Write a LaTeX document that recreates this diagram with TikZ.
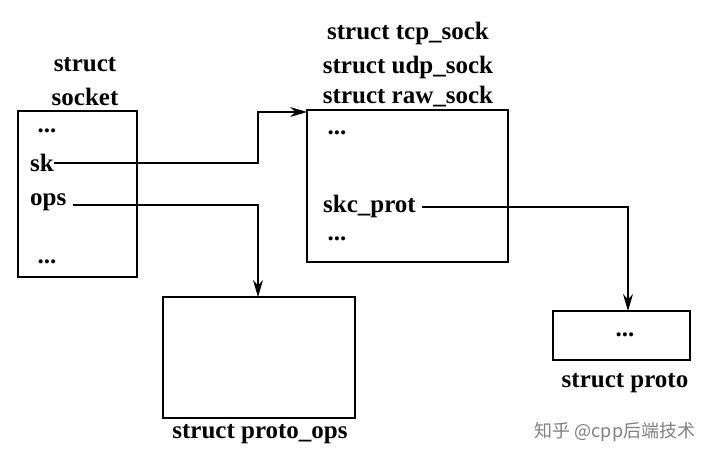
\documentclass[tikz,border=0pt]{standalone}
\usepackage{fontspec}
\setmainfont{Liberation Serif}
\newfontfamily\cjk{Noto Sans CJK SC}
\usetikzlibrary{arrows.meta}
\begin{document}
\begin{tikzpicture}[x=1pt,y=-1pt,
  box/.style={draw,line width=1.6pt},
  lab/.style={font=\bfseries\fontsize{25}{30}\selectfont,inner sep=0pt},
  con/.style={line width=1.2pt,-{Stealth[length=17pt,width=10pt]}}]
\useasboundingbox (0,0) rectangle (720,461);
\draw[box] (18,111) rectangle (137,277);
\draw[box] (307,110) rectangle (508,262);
\draw[box] (163,297) rectangle (355,418);
\draw[box] (553,311) rectangle (690,360);
\node[lab] (s1) at (85,65) {struct};
\node[lab] (s2) at (85,97) {socket};
\node[lab] (d1) at (47,131) {...};
\node[lab,anchor=west] (sk) at (30,163) {sk};
\node[lab,anchor=west] (ops) at (30,202) {ops};
\node[lab] (d2) at (47,262) {...};
\node[lab] (t1) at (408,33) {struct tcp\_sock};
\node[lab] (t2) at (408,67) {struct udp\_sock};
\node[lab] (t3) at (408,97) {struct raw\_sock};
\node[lab] (d3) at (337,133) {...};
\node[lab,anchor=west] (kp) at (323,206) {skc\_prot};
\node[lab] (d4) at (337,239) {...};
\node[lab] (po) at (260,434) {struct proto\_ops};
\node[lab] (d5) at (625,335) {...};
\node[lab] (pr) at (625,383) {struct proto};
\node[font=\cjk\fontsize{18}{20}\selectfont,text=gray,inner sep=0pt] (wm) at (615,432) {知乎 @cpp后端技术};
\coordinate (a1) at (258,163); \coordinate (a2) at (258,112); \coordinate (a3) at (307,112);
\draw[con] (sk.east |- a1) -- (a1) -- (a2) -- (a3);
\coordinate (b1) at (258,205); \coordinate (b2) at (258,297);
\draw[con] ([xshift=6pt]ops.east |- b1) -- (b1) -- (b2);
\coordinate (c1) at (628,207); \coordinate (c2) at (628,311);
\draw[con] ([xshift=6pt]kp.east |- c1) -- (c1) -- (c2);
\end{tikzpicture}
\end{document}
